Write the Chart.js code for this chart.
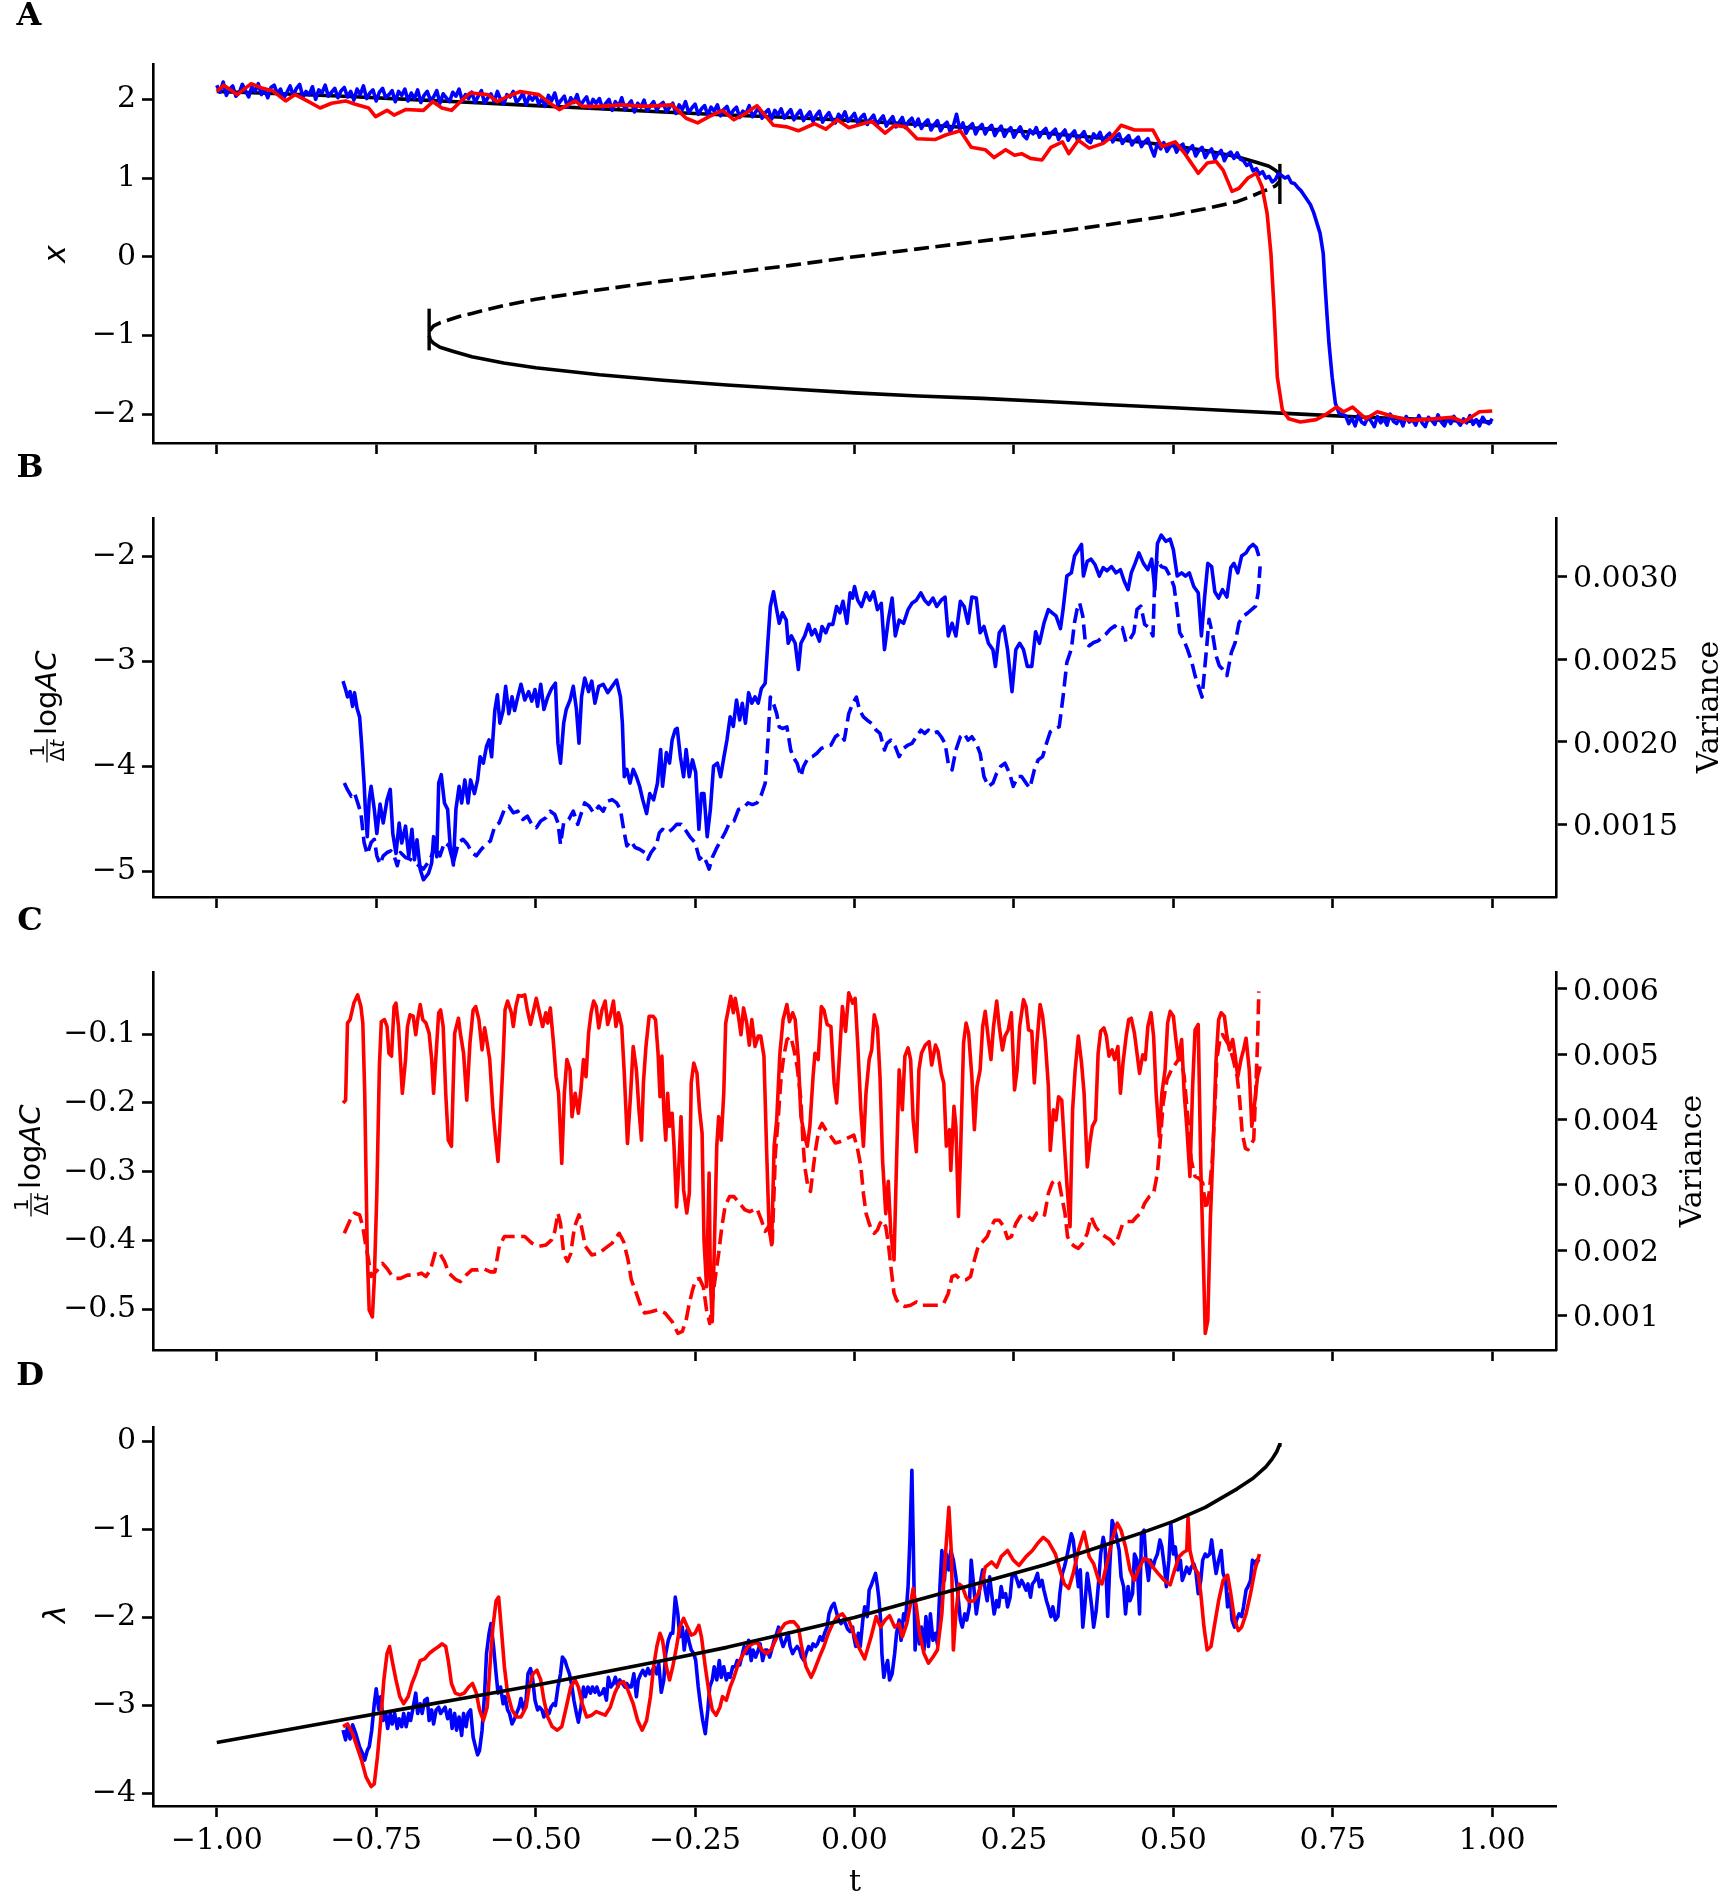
<!DOCTYPE html>
<html>
<head>
<meta charset="utf-8">
<script src="https://cdn.jsdelivr.net/npm/chart.js@4.4.1/dist/chart.umd.min.js"></script>
<style>
  html, body { margin: 0; padding: 0; background: #fff; }
  #page { position: relative; width: 1725px; height: 1895px; overflow: hidden; }
  canvas { position: absolute; left: 0; }
</style>
</head>
<body>
<div id="page">
  <canvas id="chartA" width="1725" height="470" style="top:0px"></canvas>
  <canvas id="chartB" width="1725" height="500" style="top:445px"></canvas>
  <canvas id="chartC" width="1725" height="500" style="top:900px"></canvas>
  <canvas id="chartD" width="1725" height="540" style="top:1355px"></canvas>
</div>
<script>
// ---- tick values ----
const tTicks = [-1, -0.75, -0.5, -0.25, 0, 0.25, 0.5, 0.75, 1];
const aYTicks = [-2, -1, 0, 1, 2];
const bYTicks = [-5, -4, -3, -2];
const bVarTicks = [0.0015, 0.0020, 0.0025, 0.0030];
const cYTicks = [-0.5, -0.4, -0.3, -0.2, -0.1];
const cVarTicks = [0.001, 0.002, 0.003, 0.004, 0.005, 0.006];
const dYTicks = [-4, -3, -2, -1, 0];

// ---- panel A: equilibrium branches [t, x] ----
const upperA = [[-1.0,2.10],[-0.9,2.07],[-0.8,2.04],[-0.7,2.00],[-0.6,1.96],[-0.5,1.92],[-0.4,1.88],[-0.3,1.84],[-0.2,1.80],[-0.1,1.77],[0.0,1.73],[0.1,1.68],[0.2,1.63],[0.3,1.57],[0.4,1.50],[0.5,1.41],[0.55,1.35],[0.6,1.27],[0.63,1.20],[0.65,1.15],[0.66,1.10],[0.665,1.06],[0.667,1.00]];
const lowerA = [[-0.667,-1.00],[-0.665,-1.06],[-0.66,-1.10],[-0.65,-1.15],[-0.63,-1.20],[-0.6,-1.27],[-0.55,-1.35],[-0.5,-1.41],[-0.4,-1.50],[-0.3,-1.57],[-0.2,-1.63],[-0.1,-1.68],[0.0,-1.73],[0.1,-1.77],[0.2,-1.80],[0.3,-1.84],[0.4,-1.88],[0.5,-1.92],[0.6,-1.96],[0.7,-2.00],[0.8,-2.04],[0.9,-2.07],[1.0,-2.10]];
const unstableA = [[-0.667,-0.95],[-0.66,-0.88],[-0.65,-0.84],[-0.62,-0.76],[-0.6,-0.72],[-0.55,-0.62],[-0.5,-0.54],[-0.4,-0.42],[-0.3,-0.31],[-0.2,-0.21],[-0.1,-0.11],[0.0,0.0],[0.1,0.10],[0.2,0.20],[0.3,0.30],[0.4,0.41],[0.5,0.53],[0.55,0.61],[0.6,0.70],[0.62,0.76],[0.64,0.83],[0.65,0.86],[0.66,0.90],[0.667,0.96]];
const foldT = [-0.667, 0.667];
const foldLow = [-1.19, 0.67];
const foldHigh = [-0.66, 1.18];

// ---- panel A: simulated trajectories ----
const blueAStart = -1.0, blueAStep = 0.005;
const blueAEarly = [
  2.18,2.09,2.22,2.05,2.13,2.17,2.04,2.08,2.19,2.11,2.03,2.16,2.10,2.20,2.06,2.12,2.02,2.15,2.18,2.07,
  2.13,2.01,2.09,2.17,2.05,2.14,2.19,2.03,2.10,2.06,2.16,2.00,2.12,2.08,2.18,2.04,2.09,2.14,2.02,2.11,
  2.15,2.03,2.10,1.99,2.13,2.06,2.17,2.01,2.08,2.12,1.98,2.09,2.14,2.02,2.06,2.11,1.97,2.10,2.05,2.13,
  1.98,2.08,2.01,2.12,1.96,2.05,2.10,1.99,2.03,2.11,1.95,2.07,2.02,1.97,2.09,2.04,2.13,1.98,2.06,2.01,
  2.09,1.96,2.04,2.11,1.95,2.02,2.07,1.97,2.10,2.00,1.94,2.06,2.03,2.10,1.96,2.01,2.08,1.93,2.04,1.99,
  2.06,1.94,2.01,1.91,2.05,1.98,2.08,1.93,1.99,2.04,1.90,2.02,1.96,2.06,1.92,1.98,2.03,1.89,2.00,1.95,
  2.01,1.88,1.95,2.00,1.86,1.97,1.91,2.02,1.87,1.93,1.98,1.84,1.95,1.90,1.99,1.85,1.92,1.97,1.86,1.93,
  1.96,1.84,1.90,1.95,1.82,1.93,1.87,1.97,1.83,1.89,1.94,1.81,1.88,1.92,1.80,1.90,1.85,1.93,1.79,1.87,
  1.91,1.79,1.86,1.90,1.77,1.85,1.82,1.92,1.78,1.84,1.89,1.76,1.83,1.87,1.75,1.86,1.80,1.88,1.76,1.82,
  1.87,1.74,1.81,1.86,1.73,1.79,1.84,1.72,1.80,1.85,1.71,1.78,1.83,1.74,1.70,1.81,1.76,1.84,1.72,1.77,
  1.82,1.70,1.77,1.81,1.68,1.75,1.80,1.67,1.74,1.79,1.66,1.73,1.78,1.65,1.71,1.77,1.64,1.72,1.76,1.66,
  1.75,1.63,1.70,1.74,1.61,1.68,1.73,1.60,1.67,1.71,1.59,1.66,1.81,1.62,1.70,1.57,1.65,1.69,1.56,1.64,
  1.68,1.56,1.63,1.67,1.54,1.61,1.66,1.53,1.60,1.64,1.52,1.59,1.65,1.54,1.50,1.61,1.56,1.64,1.52,1.59,
  1.63,1.51,1.58,1.62,1.49,1.56,1.61,1.48,1.55,1.60,1.47,1.54,1.59,1.48,1.45,1.56,1.51,1.58,1.46,1.53,
  1.57,1.46,1.53,1.56,1.44,1.50,1.54,1.42,1.48,1.52,1.40,1.46,1.50,1.38,1.28,1.44,1.37,1.45,1.34,1.40,
  1.44,1.33,1.40,1.43,1.30,1.37,1.41,1.28,1.35,1.39,1.26,1.33,1.37,1.24,1.31,1.35,1.22,1.30,1.33,1.25,
  1.32,1.24,1.22,1.16,1.19,1.09,1.12,1.05,1.08,1.00,1.02,0.95,0.98,1.06,1.03,1.00,1.02,0.94,0.93,0.88,
  0.84,0.78,0.72,0.66,0.56
];
const blueADrop = [[0.73,0.30],[0.735,0.04],[0.738,-0.38],[0.741,-0.75],[0.744,-1.10],[0.749,-1.53],[0.754,-1.86],[0.76,-1.99]];
const blueALateStart = 0.77;
const blueALate = [
  -2.02,-2.12,-2.05,-2.15,-2.01,-2.10,-2.13,-2.04,-2.09,-2.16,
  -2.03,-2.11,-2.06,-2.14,-2.00,-2.09,-2.12,-2.05,-2.15,-2.03,
  -2.10,-2.07,-2.14,-2.02,-2.11,-2.16,-2.04,-2.08,-2.13,-2.01,
  -2.10,-2.15,-2.05,-2.12,-2.03,-2.09,-2.14,-2.06,-2.11,-2.02,
  -2.13,-2.07,-2.15,-2.04,-2.10,-2.12,-2.06
];
const redA = [[-1.000,2.10],[-0.989,2.18],[-0.968,2.06],[-0.946,2.20],[-0.928,2.14],[-0.913,2.11],[-0.892,1.98],[-0.877,2.06],[-0.856,1.97],[-0.838,1.89],[-0.820,1.95],[-0.798,1.98],[-0.784,1.94],[-0.762,1.89],[-0.751,1.78],[-0.733,1.86],[-0.722,1.80],[-0.704,1.87],[-0.676,1.86],[-0.661,1.97],[-0.647,1.89],[-0.632,1.86],[-0.618,1.97],[-0.603,2.08],[-0.575,2.06],[-0.560,1.97],[-0.546,2.03],[-0.524,2.10],[-0.495,2.06],[-0.474,1.93],[-0.463,1.87],[-0.438,1.98],[-0.427,1.91],[-0.401,1.91],[-0.365,1.93],[-0.329,1.91],[-0.286,1.93],[-0.264,1.76],[-0.246,1.70],[-0.228,1.78],[-0.207,1.86],[-0.189,1.74],[-0.171,1.82],[-0.153,1.92],[-0.127,1.67],[-0.106,1.65],[-0.088,1.60],[-0.063,1.69],[-0.045,1.62],[-0.027,1.74],[-0.009,1.64],[0.013,1.69],[0.027,1.72],[0.048,1.57],[0.063,1.67],[0.080,1.65],[0.098,1.50],[0.127,1.49],[0.144,1.55],[0.166,1.60],[0.183,1.39],[0.205,1.36],[0.219,1.26],[0.237,1.36],[0.251,1.29],[0.262,1.31],[0.276,1.25],[0.294,1.23],[0.308,1.39],[0.326,1.46],[0.336,1.31],[0.351,1.48],[0.368,1.38],[0.390,1.44],[0.404,1.53],[0.418,1.67],[0.439,1.61],[0.454,1.61],[0.468,1.61],[0.482,1.40],[0.503,1.46],[0.518,1.31],[0.539,1.06],[0.553,1.19],[0.567,1.21],[0.578,1.10],[0.592,0.83],[0.603,0.87],[0.617,1.00],[0.630,1.06],[0.639,0.89],[0.647,0.55],[0.653,0.04],[0.658,-0.68],[0.663,-1.53],[0.671,-1.95],[0.681,-2.06],[0.699,-2.10],[0.724,-2.07],[0.738,-2.01],[0.756,-1.91],[0.767,-1.97],[0.781,-1.91],[0.802,-2.06],[0.820,-1.97],[0.845,-2.03],[0.873,-2.08],[0.909,-2.06],[0.937,-2.04],[0.955,-2.10],[0.980,-1.97],[1.000,-1.96]];

// ---- panel B: blue run, (1/dt) log AC and variance ----
const blueLogAC = [[-0.802,-3.19],[-0.798,-3.27],[-0.795,-3.34],[-0.791,-3.29],[-0.787,-3.43],[-0.784,-3.30],[-0.780,-3.45],[-0.776,-3.53],[-0.773,-3.78],[-0.769,-4.16],[-0.767,-4.41],[-0.764,-4.67],[-0.761,-4.32],[-0.758,-4.19],[-0.753,-4.41],[-0.749,-4.64],[-0.744,-4.36],[-0.739,-4.54],[-0.733,-4.32],[-0.728,-4.22],[-0.724,-4.64],[-0.719,-4.83],[-0.714,-4.54],[-0.710,-4.73],[-0.704,-4.57],[-0.699,-4.86],[-0.694,-4.60],[-0.690,-4.89],[-0.686,-4.70],[-0.681,-4.98],[-0.676,-5.08],[-0.668,-5.02],[-0.663,-4.92],[-0.660,-4.67],[-0.655,-4.86],[-0.652,-4.16],[-0.648,-4.08],[-0.643,-4.35],[-0.638,-4.41],[-0.634,-4.76],[-0.629,-4.94],[-0.625,-4.41],[-0.620,-4.19],[-0.616,-4.35],[-0.611,-4.13],[-0.606,-4.35],[-0.602,-4.13],[-0.596,-4.26],[-0.591,-4.13],[-0.587,-3.91],[-0.582,-3.97],[-0.577,-3.81],[-0.573,-3.75],[-0.569,-3.91],[-0.564,-3.47],[-0.560,-3.32],[-0.556,-3.59],[-0.551,-3.47],[-0.547,-3.24],[-0.542,-3.50],[-0.537,-3.34],[-0.533,-3.47],[-0.528,-3.34],[-0.523,-3.22],[-0.517,-3.37],[-0.511,-3.29],[-0.506,-3.38],[-0.501,-3.27],[-0.497,-3.43],[-0.492,-3.22],[-0.487,-3.46],[-0.481,-3.34],[-0.475,-3.26],[-0.469,-3.21],[-0.465,-3.78],[-0.461,-3.97],[-0.456,-3.59],[-0.452,-3.46],[-0.446,-3.37],[-0.441,-3.24],[-0.436,-3.46],[-0.432,-3.78],[-0.428,-3.34],[-0.423,-3.16],[-0.417,-3.29],[-0.412,-3.19],[-0.407,-3.40],[-0.401,-3.24],[-0.394,-3.22],[-0.387,-3.30],[-0.380,-3.24],[-0.373,-3.18],[-0.367,-3.34],[-0.364,-3.59],[-0.361,-4.10],[-0.357,-4.03],[-0.352,-4.16],[-0.347,-4.03],[-0.342,-4.10],[-0.337,-4.19],[-0.332,-4.32],[-0.326,-4.45],[-0.321,-4.26],[-0.315,-4.32],[-0.309,-4.16],[-0.304,-3.84],[-0.301,-4.19],[-0.295,-3.87],[-0.290,-3.97],[-0.286,-3.75],[-0.281,-3.65],[-0.278,-3.64],[-0.273,-3.91],[-0.268,-4.10],[-0.264,-3.84],[-0.259,-4.10],[-0.254,-3.94],[-0.249,-4.06],[-0.244,-4.60],[-0.240,-4.26],[-0.236,-4.26],[-0.231,-4.67],[-0.226,-4.41],[-0.221,-4.00],[-0.215,-3.97],[-0.210,-4.10],[-0.205,-3.92],[-0.200,-3.75],[-0.195,-3.53],[-0.190,-3.62],[-0.185,-3.37],[-0.180,-3.56],[-0.176,-3.40],[-0.171,-3.59],[-0.166,-3.30],[-0.161,-3.40],[-0.156,-3.34],[-0.151,-3.40],[-0.146,-3.26],[-0.140,-3.21],[-0.136,-2.83],[-0.132,-2.48],[-0.127,-2.34],[-0.123,-2.48],[-0.118,-2.64],[-0.113,-2.54],[-0.107,-2.61],[-0.104,-2.83],[-0.099,-2.76],[-0.093,-2.83],[-0.088,-3.08],[-0.084,-2.83],[-0.078,-2.76],[-0.072,-2.65],[-0.067,-2.75],[-0.062,-2.70],[-0.055,-2.81],[-0.051,-2.67],[-0.045,-2.73],[-0.040,-2.65],[-0.034,-2.65],[-0.028,-2.48],[-0.023,-2.54],[-0.018,-2.43],[-0.012,-2.64],[-0.007,-2.35],[-0.003,-2.40],[0.000,-2.29],[0.005,-2.42],[0.011,-2.48],[0.018,-2.35],[0.024,-2.42],[0.030,-2.34],[0.036,-2.51],[0.042,-2.45],[0.047,-2.89],[0.053,-2.61],[0.059,-2.40],[0.064,-2.76],[0.070,-2.61],[0.077,-2.64],[0.084,-2.51],[0.090,-2.45],[0.097,-2.42],[0.104,-2.35],[0.110,-2.42],[0.116,-2.46],[0.123,-2.40],[0.129,-2.48],[0.136,-2.42],[0.142,-2.39],[0.147,-2.76],[0.153,-2.64],[0.159,-2.76],[0.166,-2.43],[0.172,-2.48],[0.178,-2.64],[0.184,-2.39],[0.191,-2.40],[0.197,-2.73],[0.203,-2.67],[0.210,-2.83],[0.217,-2.89],[0.221,-3.05],[0.227,-2.73],[0.234,-2.67],[0.240,-2.89],[0.247,-3.29],[0.253,-2.89],[0.259,-2.83],[0.265,-2.89],[0.271,-3.05],[0.278,-3.05],[0.284,-2.72],[0.290,-2.83],[0.297,-2.64],[0.304,-2.51],[0.310,-2.54],[0.316,-2.57],[0.323,-2.69],[0.327,-2.51],[0.333,-2.19],[0.340,-2.16],[0.345,-2.00],[0.351,-1.94],[0.356,-1.89],[0.359,-2.19],[0.365,-2.05],[0.371,-2.03],[0.377,-2.08],[0.384,-2.19],[0.390,-2.11],[0.396,-2.14],[0.403,-2.10],[0.410,-2.16],[0.417,-2.13],[0.423,-2.24],[0.429,-2.32],[0.434,-2.16],[0.440,-2.07],[0.446,-1.97],[0.453,-2.07],[0.460,-2.13],[0.466,-2.03],[0.471,-2.32],[0.475,-1.88],[0.481,-1.80],[0.488,-1.86],[0.495,-1.84],[0.500,-1.94],[0.506,-2.19],[0.513,-2.16],[0.519,-2.19],[0.525,-2.16],[0.532,-2.29],[0.539,-2.35],[0.544,-2.76],[0.549,-2.39],[0.554,-2.07],[0.560,-2.10],[0.565,-2.34],[0.571,-2.40],[0.577,-2.32],[0.584,-2.39],[0.590,-2.11],[0.595,-2.07],[0.601,-2.16],[0.607,-2.00],[0.614,-1.97],[0.619,-1.92],[0.625,-1.89],[0.630,-1.92],[0.634,-2.00]];
const blueVar = [[-0.800,0.00175],[-0.795,0.00171],[-0.789,0.00167],[-0.784,0.00169],[-0.779,0.00163],[-0.774,0.00157],[-0.769,0.00139],[-0.764,0.00132],[-0.758,0.00139],[-0.753,0.00141],[-0.749,0.00131],[-0.744,0.00126],[-0.739,0.00131],[-0.733,0.00133],[-0.727,0.00134],[-0.722,0.00131],[-0.717,0.00125],[-0.712,0.00133],[-0.704,0.00130],[-0.697,0.00129],[-0.690,0.00127],[-0.683,0.00125],[-0.676,0.00123],[-0.665,0.00129],[-0.657,0.00138],[-0.650,0.00131],[-0.643,0.00139],[-0.636,0.00137],[-0.629,0.00127],[-0.621,0.00139],[-0.614,0.00141],[-0.607,0.00138],[-0.600,0.00133],[-0.593,0.00131],[-0.585,0.00135],[-0.578,0.00138],[-0.571,0.00140],[-0.564,0.00149],[-0.557,0.00151],[-0.549,0.00159],[-0.542,0.00161],[-0.535,0.00157],[-0.528,0.00158],[-0.520,0.00153],[-0.513,0.00155],[-0.506,0.00150],[-0.499,0.00148],[-0.492,0.00152],[-0.484,0.00154],[-0.477,0.00158],[-0.470,0.00156],[-0.465,0.00151],[-0.461,0.00138],[-0.456,0.00151],[-0.448,0.00153],[-0.441,0.00158],[-0.434,0.00150],[-0.429,0.00156],[-0.423,0.00163],[-0.416,0.00161],[-0.409,0.00157],[-0.401,0.00161],[-0.394,0.00158],[-0.387,0.00164],[-0.380,0.00165],[-0.373,0.00163],[-0.367,0.00159],[-0.362,0.00147],[-0.357,0.00137],[-0.351,0.00140],[-0.344,0.00136],[-0.337,0.00135],[-0.329,0.00133],[-0.324,0.00129],[-0.319,0.00133],[-0.311,0.00137],[-0.306,0.00145],[-0.301,0.00147],[-0.293,0.00145],[-0.286,0.00147],[-0.279,0.00150],[-0.272,0.00150],[-0.264,0.00146],[-0.257,0.00142],[-0.250,0.00139],[-0.243,0.00129],[-0.237,0.00131],[-0.232,0.00127],[-0.228,0.00123],[-0.223,0.00130],[-0.217,0.00135],[-0.210,0.00140],[-0.203,0.00145],[-0.196,0.00151],[-0.189,0.00152],[-0.182,0.00159],[-0.174,0.00160],[-0.167,0.00163],[-0.160,0.00162],[-0.153,0.00163],[-0.146,0.00168],[-0.140,0.00175],[-0.136,0.00199],[-0.132,0.00227],[-0.127,0.00223],[-0.122,0.00217],[-0.118,0.00209],[-0.113,0.00208],[-0.106,0.00209],[-0.100,0.00195],[-0.095,0.00190],[-0.090,0.00187],[-0.084,0.00179],[-0.080,0.00185],[-0.073,0.00190],[-0.066,0.00191],[-0.059,0.00193],[-0.052,0.00196],[-0.045,0.00197],[-0.037,0.00198],[-0.030,0.00203],[-0.023,0.00205],[-0.016,0.00201],[-0.009,0.00217],[-0.003,0.00223],[0.003,0.00227],[0.008,0.00219],[0.014,0.00215],[0.020,0.00213],[0.027,0.00211],[0.034,0.00207],[0.040,0.00205],[0.047,0.00195],[0.051,0.00199],[0.057,0.00201],[0.064,0.00197],[0.070,0.00191],[0.077,0.00196],[0.084,0.00198],[0.090,0.00199],[0.097,0.00203],[0.104,0.00207],[0.110,0.00205],[0.116,0.00207],[0.123,0.00205],[0.130,0.00206],[0.136,0.00203],[0.142,0.00199],[0.147,0.00187],[0.153,0.00183],[0.159,0.00195],[0.166,0.00203],[0.172,0.00205],[0.178,0.00201],[0.184,0.00203],[0.191,0.00199],[0.197,0.00193],[0.203,0.00179],[0.210,0.00173],[0.217,0.00175],[0.223,0.00181],[0.229,0.00185],[0.236,0.00187],[0.243,0.00181],[0.249,0.00173],[0.256,0.00179],[0.262,0.00179],[0.269,0.00175],[0.275,0.00172],[0.282,0.00183],[0.288,0.00189],[0.295,0.00191],[0.301,0.00199],[0.307,0.00206],[0.314,0.00208],[0.321,0.00209],[0.327,0.00227],[0.333,0.00248],[0.340,0.00256],[0.345,0.00272],[0.349,0.00280],[0.353,0.00284],[0.358,0.00276],[0.362,0.00260],[0.368,0.00258],[0.375,0.00260],[0.382,0.00261],[0.388,0.00263],[0.394,0.00265],[0.401,0.00268],[0.408,0.00270],[0.414,0.00268],[0.420,0.00269],[0.426,0.00260],[0.432,0.00262],[0.438,0.00266],[0.443,0.00280],[0.449,0.00282],[0.455,0.00271],[0.462,0.00269],[0.468,0.00264],[0.471,0.00300],[0.475,0.00310],[0.481,0.00306],[0.488,0.00305],[0.495,0.00300],[0.501,0.00294],[0.506,0.00280],[0.510,0.00266],[0.516,0.00262],[0.522,0.00256],[0.529,0.00248],[0.534,0.00240],[0.540,0.00233],[0.545,0.00227],[0.551,0.00252],[0.556,0.00274],[0.562,0.00264],[0.567,0.00252],[0.572,0.00246],[0.577,0.00244],[0.584,0.00240],[0.591,0.00254],[0.597,0.00260],[0.603,0.00272],[0.610,0.00276],[0.617,0.00278],[0.623,0.00280],[0.629,0.00282],[0.633,0.00290],[0.636,0.00306]];

// ---- panel C: red run, (1/dt) log AC and variance ----
const redLogAC = [[-0.802,-0.200],[-0.798,-0.196],[-0.795,-0.084],[-0.791,-0.079],[-0.785,-0.055],[-0.779,-0.043],[-0.774,-0.060],[-0.771,-0.084],[-0.768,-0.186],[-0.764,-0.419],[-0.761,-0.501],[-0.756,-0.511],[-0.753,-0.457],[-0.749,-0.331],[-0.745,-0.147],[-0.742,-0.082],[-0.737,-0.079],[-0.733,-0.089],[-0.730,-0.128],[-0.726,-0.132],[-0.722,-0.060],[-0.719,-0.055],[-0.715,-0.089],[-0.709,-0.186],[-0.704,-0.137],[-0.701,-0.089],[-0.697,-0.072],[-0.692,-0.074],[-0.688,-0.101],[-0.685,-0.079],[-0.681,-0.057],[-0.677,-0.079],[-0.672,-0.084],[-0.667,-0.099],[-0.663,-0.137],[-0.660,-0.186],[-0.655,-0.113],[-0.652,-0.069],[-0.649,-0.065],[-0.645,-0.089],[-0.641,-0.186],[-0.637,-0.254],[-0.632,-0.263],[-0.627,-0.099],[-0.621,-0.077],[-0.618,-0.099],[-0.613,-0.128],[-0.608,-0.196],[-0.603,-0.113],[-0.598,-0.065],[-0.594,-0.060],[-0.589,-0.079],[-0.584,-0.123],[-0.580,-0.091],[-0.576,-0.113],[-0.572,-0.137],[-0.567,-0.210],[-0.563,-0.249],[-0.559,-0.285],[-0.556,-0.234],[-0.551,-0.137],[-0.548,-0.065],[-0.544,-0.052],[-0.538,-0.069],[-0.535,-0.089],[-0.531,-0.060],[-0.527,-0.044],[-0.522,-0.045],[-0.517,-0.043],[-0.513,-0.065],[-0.508,-0.086],[-0.504,-0.069],[-0.499,-0.048],[-0.494,-0.069],[-0.489,-0.089],[-0.484,-0.069],[-0.481,-0.084],[-0.477,-0.062],[-0.472,-0.113],[-0.468,-0.162],[-0.464,-0.186],[-0.459,-0.288],[-0.455,-0.186],[-0.451,-0.137],[-0.446,-0.152],[-0.443,-0.220],[-0.438,-0.186],[-0.433,-0.215],[-0.429,-0.181],[-0.425,-0.137],[-0.421,-0.162],[-0.417,-0.099],[-0.413,-0.069],[-0.409,-0.052],[-0.405,-0.060],[-0.401,-0.091],[-0.396,-0.065],[-0.391,-0.052],[-0.387,-0.086],[-0.383,-0.074],[-0.378,-0.052],[-0.374,-0.089],[-0.370,-0.069],[-0.365,-0.089],[-0.361,-0.157],[-0.356,-0.259],[-0.351,-0.186],[-0.347,-0.118],[-0.342,-0.152],[-0.338,-0.210],[-0.334,-0.254],[-0.331,-0.171],[-0.327,-0.118],[-0.322,-0.074],[-0.316,-0.074],[-0.312,-0.079],[-0.308,-0.128],[-0.305,-0.191],[-0.302,-0.132],[-0.299,-0.210],[-0.296,-0.254],[-0.293,-0.186],[-0.290,-0.234],[-0.286,-0.215],[-0.283,-0.263],[-0.279,-0.351],[-0.275,-0.283],[-0.272,-0.220],[-0.268,-0.326],[-0.263,-0.360],[-0.259,-0.331],[-0.256,-0.171],[-0.252,-0.142],[-0.247,-0.157],[-0.243,-0.210],[-0.239,-0.244],[-0.236,-0.399],[-0.232,-0.467],[-0.228,-0.302],[-0.226,-0.457],[-0.223,-0.518],[-0.220,-0.419],[-0.216,-0.263],[-0.213,-0.220],[-0.209,-0.254],[-0.205,-0.186],[-0.202,-0.084],[-0.197,-0.060],[-0.194,-0.045],[-0.190,-0.069],[-0.187,-0.048],[-0.182,-0.074],[-0.178,-0.101],[-0.174,-0.062],[-0.169,-0.084],[-0.165,-0.116],[-0.161,-0.079],[-0.156,-0.118],[-0.151,-0.103],[-0.147,-0.103],[-0.142,-0.132],[-0.138,-0.263],[-0.134,-0.380],[-0.130,-0.406],[-0.126,-0.263],[-0.122,-0.225],[-0.117,-0.128],[-0.112,-0.079],[-0.106,-0.057],[-0.102,-0.082],[-0.097,-0.069],[-0.093,-0.079],[-0.088,-0.137],[-0.084,-0.220],[-0.078,-0.249],[-0.074,-0.263],[-0.070,-0.234],[-0.065,-0.162],[-0.062,-0.128],[-0.057,-0.137],[-0.052,-0.060],[-0.048,-0.065],[-0.043,-0.086],[-0.037,-0.089],[-0.032,-0.171],[-0.028,-0.200],[-0.023,-0.123],[-0.019,-0.060],[-0.014,-0.096],[-0.009,-0.040],[-0.003,-0.055],[0.001,-0.048],[0.005,-0.113],[0.010,-0.210],[0.014,-0.263],[0.018,-0.186],[0.023,-0.137],[0.027,-0.123],[0.031,-0.072],[0.036,-0.091],[0.040,-0.162],[0.044,-0.283],[0.049,-0.361],[0.053,-0.314],[0.057,-0.390],[0.062,-0.428],[0.066,-0.283],[0.070,-0.152],[0.075,-0.210],[0.079,-0.132],[0.084,-0.120],[0.088,-0.137],[0.092,-0.225],[0.097,-0.271],[0.101,-0.152],[0.105,-0.128],[0.111,-0.116],[0.117,-0.111],[0.121,-0.145],[0.127,-0.116],[0.131,-0.125],[0.136,-0.157],[0.140,-0.171],[0.144,-0.263],[0.149,-0.239],[0.151,-0.298],[0.156,-0.205],[0.159,-0.234],[0.163,-0.365],[0.166,-0.283],[0.171,-0.113],[0.175,-0.084],[0.179,-0.099],[0.184,-0.162],[0.188,-0.239],[0.192,-0.176],[0.197,-0.152],[0.201,-0.089],[0.205,-0.067],[0.210,-0.108],[0.214,-0.137],[0.218,-0.089],[0.223,-0.052],[0.227,-0.089],[0.232,-0.123],[0.236,-0.103],[0.241,-0.094],[0.246,-0.069],[0.251,-0.181],[0.255,-0.152],[0.259,-0.089],[0.265,-0.050],[0.269,-0.060],[0.273,-0.094],[0.278,-0.096],[0.282,-0.171],[0.286,-0.113],[0.291,-0.057],[0.295,-0.074],[0.299,-0.108],[0.304,-0.176],[0.307,-0.269],[0.312,-0.210],[0.316,-0.225],[0.320,-0.191],[0.325,-0.196],[0.329,-0.259],[0.333,-0.317],[0.338,-0.380],[0.342,-0.210],[0.346,-0.152],[0.351,-0.103],[0.356,-0.142],[0.360,-0.186],[0.365,-0.293],[0.369,-0.259],[0.373,-0.234],[0.378,-0.225],[0.382,-0.128],[0.386,-0.096],[0.391,-0.091],[0.395,-0.103],[0.399,-0.132],[0.404,-0.123],[0.408,-0.137],[0.413,-0.118],[0.417,-0.186],[0.421,-0.142],[0.426,-0.103],[0.430,-0.079],[0.434,-0.077],[0.439,-0.099],[0.443,-0.128],[0.447,-0.157],[0.452,-0.130],[0.456,-0.137],[0.460,-0.089],[0.465,-0.069],[0.469,-0.103],[0.473,-0.186],[0.478,-0.249],[0.482,-0.186],[0.487,-0.152],[0.491,-0.084],[0.495,-0.067],[0.500,-0.074],[0.504,-0.108],[0.508,-0.137],[0.513,-0.108],[0.517,-0.186],[0.521,-0.234],[0.526,-0.307],[0.530,-0.181],[0.534,-0.094],[0.539,-0.086],[0.543,-0.293],[0.547,-0.428],[0.550,-0.535],[0.554,-0.516],[0.558,-0.370],[0.562,-0.273],[0.567,-0.137],[0.571,-0.079],[0.575,-0.069],[0.580,-0.074],[0.584,-0.103],[0.588,-0.123],[0.593,-0.108],[0.597,-0.132],[0.601,-0.162],[0.606,-0.137],[0.610,-0.123],[0.614,-0.106],[0.619,-0.152],[0.623,-0.234],[0.628,-0.196],[0.632,-0.162],[0.636,-0.147]];
const redVar = [[-0.800,0.00226],[-0.791,0.00246],[-0.784,0.00257],[-0.776,0.00254],[-0.771,0.00236],[-0.767,0.00211],[-0.762,0.00185],[-0.758,0.00160],[-0.753,0.00165],[-0.748,0.00170],[-0.740,0.00180],[-0.733,0.00172],[-0.726,0.00162],[-0.719,0.00157],[-0.712,0.00157],[-0.701,0.00162],[-0.690,0.00162],[-0.679,0.00165],[-0.672,0.00160],[-0.665,0.00170],[-0.657,0.00198],[-0.650,0.00195],[-0.643,0.00183],[-0.636,0.00165],[-0.625,0.00155],[-0.618,0.00152],[-0.609,0.00162],[-0.600,0.00170],[-0.590,0.00170],[-0.582,0.00172],[-0.571,0.00167],[-0.564,0.00167],[-0.557,0.00206],[-0.549,0.00221],[-0.538,0.00221],[-0.528,0.00221],[-0.517,0.00221],[-0.506,0.00211],[-0.495,0.00206],[-0.484,0.00208],[-0.475,0.00216],[-0.470,0.00229],[-0.465,0.00257],[-0.461,0.00241],[-0.456,0.00195],[-0.450,0.00183],[-0.445,0.00195],[-0.439,0.00236],[-0.432,0.00254],[-0.427,0.00231],[-0.422,0.00206],[-0.412,0.00193],[-0.401,0.00195],[-0.391,0.00203],[-0.380,0.00211],[-0.369,0.00226],[-0.362,0.00213],[-0.355,0.00185],[-0.350,0.00155],[-0.342,0.00134],[-0.335,0.00114],[-0.329,0.00104],[-0.319,0.00106],[-0.308,0.00109],[-0.297,0.00104],[-0.286,0.00091],[-0.277,0.00073],[-0.270,0.00076],[-0.264,0.00093],[-0.259,0.00119],[-0.254,0.00139],[-0.249,0.00155],[-0.243,0.00157],[-0.237,0.00144],[-0.232,0.00109],[-0.227,0.00088],[-0.221,0.00139],[-0.216,0.00175],[-0.213,0.00195],[-0.208,0.00236],[-0.203,0.00267],[-0.196,0.00282],[-0.189,0.00282],[-0.182,0.00274],[-0.172,0.00262],[-0.164,0.00259],[-0.153,0.00264],[-0.146,0.00246],[-0.140,0.00229],[-0.135,0.00236],[-0.129,0.00211],[-0.124,0.00348],[-0.119,0.00410],[-0.115,0.00466],[-0.111,0.00496],[-0.106,0.00522],[-0.100,0.00527],[-0.095,0.00507],[-0.090,0.00481],[-0.084,0.00430],[-0.081,0.00369],[-0.078,0.00328],[-0.073,0.00297],[-0.069,0.00290],[-0.065,0.00323],[-0.061,0.00354],[-0.056,0.00384],[-0.051,0.00394],[-0.045,0.00384],[-0.037,0.00374],[-0.030,0.00364],[-0.023,0.00366],[-0.012,0.00371],[-0.001,0.00376],[0.005,0.00354],[0.010,0.00328],[0.014,0.00287],[0.018,0.00257],[0.023,0.00241],[0.027,0.00231],[0.031,0.00226],[0.036,0.00231],[0.040,0.00241],[0.044,0.00246],[0.049,0.00236],[0.053,0.00211],[0.057,0.00175],[0.062,0.00134],[0.066,0.00124],[0.070,0.00119],[0.079,0.00114],[0.088,0.00116],[0.097,0.00121],[0.105,0.00116],[0.118,0.00116],[0.131,0.00116],[0.140,0.00119],[0.147,0.00134],[0.153,0.00160],[0.159,0.00162],[0.166,0.00155],[0.175,0.00155],[0.182,0.00160],[0.188,0.00185],[0.194,0.00206],[0.201,0.00213],[0.208,0.00221],[0.214,0.00236],[0.220,0.00246],[0.227,0.00246],[0.234,0.00236],[0.240,0.00218],[0.246,0.00221],[0.253,0.00241],[0.260,0.00252],[0.266,0.00254],[0.272,0.00252],[0.279,0.00246],[0.286,0.00257],[0.292,0.00259],[0.298,0.00254],[0.304,0.00287],[0.310,0.00303],[0.316,0.00308],[0.321,0.00303],[0.326,0.00277],[0.330,0.00257],[0.334,0.00221],[0.339,0.00211],[0.345,0.00206],[0.351,0.00203],[0.358,0.00211],[0.365,0.00226],[0.371,0.00251],[0.378,0.00236],[0.386,0.00226],[0.393,0.00221],[0.401,0.00216],[0.408,0.00208],[0.414,0.00221],[0.420,0.00239],[0.427,0.00244],[0.436,0.00244],[0.443,0.00252],[0.449,0.00257],[0.455,0.00272],[0.462,0.00282],[0.469,0.00287],[0.475,0.00318],[0.480,0.00374],[0.484,0.00425],[0.490,0.00461],[0.497,0.00476],[0.504,0.00486],[0.511,0.00496],[0.517,0.00466],[0.523,0.00399],[0.528,0.00338],[0.534,0.00313],[0.540,0.00310],[0.546,0.00303],[0.551,0.00262],[0.556,0.00287],[0.561,0.00338],[0.565,0.00415],[0.568,0.00491],[0.573,0.00522],[0.577,0.00530],[0.582,0.00522],[0.588,0.00512],[0.594,0.00491],[0.600,0.00466],[0.604,0.00430],[0.608,0.00379],[0.613,0.00356],[0.617,0.00354],[0.621,0.00361],[0.626,0.00369],[0.629,0.00440],[0.632,0.00517],[0.634,0.00596]];

// ---- panel D: decay rate lambda ----
const lambdaTheory = [[-1.00,-3.42],[-0.90,-3.29],[-0.80,-3.16],[-0.70,-3.03],[-0.60,-2.90],[-0.50,-2.77],[-0.40,-2.63],[-0.30,-2.49],[-0.20,-2.34],[-0.10,-2.17],[0.00,-2.00],[0.10,-1.80],[0.20,-1.60],[0.30,-1.40],[0.40,-1.16],[0.45,-1.04],[0.50,-0.91],[0.55,-0.75],[0.60,-0.54],[0.625,-0.42],[0.645,-0.29],[0.655,-0.20],[0.662,-0.12],[0.666,-0.05],[0.667,-0.02]];
const blueLambda = [[-0.802,-3.28],[-0.798,-3.39],[-0.795,-3.24],[-0.791,-3.38],[-0.787,-3.22],[-0.782,-3.32],[-0.776,-3.47],[-0.771,-3.55],[-0.768,-3.62],[-0.764,-3.51],[-0.761,-3.47],[-0.757,-3.28],[-0.753,-2.98],[-0.750,-2.81],[-0.746,-3.05],[-0.743,-2.90],[-0.739,-3.17],[-0.735,-3.09],[-0.732,-3.26],[-0.728,-3.09],[-0.725,-3.21],[-0.721,-3.09],[-0.717,-3.26],[-0.714,-3.15],[-0.710,-3.24],[-0.707,-3.09],[-0.703,-3.24],[-0.699,-3.09],[-0.696,-3.17],[-0.692,-3.02],[-0.688,-2.86],[-0.685,-3.09],[-0.681,-2.98],[-0.678,-3.09],[-0.674,-2.94],[-0.670,-2.92],[-0.667,-3.17],[-0.663,-3.05],[-0.660,-3.21],[-0.656,-3.05],[-0.652,-3.02],[-0.649,-3.09],[-0.645,-3.05],[-0.642,-3.02],[-0.638,-3.15],[-0.634,-3.05],[-0.631,-3.26],[-0.627,-3.09],[-0.624,-3.28],[-0.620,-3.13],[-0.616,-3.34],[-0.613,-3.09],[-0.609,-3.24],[-0.606,-3.09],[-0.602,-3.05],[-0.598,-3.36],[-0.595,-3.45],[-0.591,-3.56],[-0.588,-3.51],[-0.584,-3.28],[-0.580,-2.86],[-0.577,-2.41],[-0.573,-2.18],[-0.570,-2.07],[-0.566,-2.33],[-0.562,-2.64],[-0.559,-2.86],[-0.555,-2.79],[-0.551,-2.98],[-0.548,-2.90],[-0.544,-3.05],[-0.541,-3.09],[-0.537,-3.21],[-0.533,-3.15],[-0.530,-3.09],[-0.526,-3.02],[-0.523,-2.92],[-0.519,-3.05],[-0.515,-2.94],[-0.512,-2.64],[-0.508,-2.58],[-0.505,-2.68],[-0.501,-2.94],[-0.497,-3.05],[-0.494,-3.02],[-0.490,-3.05],[-0.487,-3.13],[-0.483,-3.05],[-0.479,-3.09],[-0.476,-3.02],[-0.472,-2.98],[-0.469,-3.00],[-0.465,-2.79],[-0.461,-2.64],[-0.458,-2.45],[-0.454,-2.49],[-0.451,-2.56],[-0.447,-2.64],[-0.443,-2.79],[-0.440,-2.94],[-0.436,-3.09],[-0.433,-3.19],[-0.429,-3.02],[-0.425,-2.79],[-0.422,-2.90],[-0.418,-2.79],[-0.414,-2.86],[-0.411,-2.79],[-0.407,-2.85],[-0.404,-2.79],[-0.400,-2.88],[-0.396,-2.86],[-0.393,-2.81],[-0.389,-2.94],[-0.386,-2.68],[-0.382,-2.79],[-0.378,-2.75],[-0.375,-2.68],[-0.371,-2.79],[-0.368,-2.71],[-0.364,-2.75],[-0.360,-2.79],[-0.357,-2.75],[-0.353,-2.79],[-0.350,-2.79],[-0.346,-2.64],[-0.342,-2.90],[-0.339,-2.71],[-0.335,-2.64],[-0.332,-2.60],[-0.328,-2.66],[-0.324,-2.58],[-0.321,-2.64],[-0.317,-2.60],[-0.314,-2.56],[-0.310,-2.64],[-0.307,-2.52],[-0.303,-2.85],[-0.299,-2.71],[-0.296,-2.41],[-0.292,-2.26],[-0.288,-2.18],[-0.285,-2.18],[-0.281,-1.77],[-0.277,-1.96],[-0.274,-2.22],[-0.270,-2.11],[-0.267,-2.37],[-0.263,-2.15],[-0.260,-2.26],[-0.256,-2.37],[-0.252,-2.41],[-0.249,-2.49],[-0.245,-2.79],[-0.241,-3.02],[-0.238,-3.17],[-0.234,-3.32],[-0.230,-3.05],[-0.227,-2.79],[-0.223,-2.71],[-0.220,-2.56],[-0.216,-2.71],[-0.212,-2.49],[-0.209,-2.68],[-0.205,-2.56],[-0.201,-2.71],[-0.198,-2.64],[-0.195,-2.68],[-0.191,-2.56],[-0.187,-2.56],[-0.184,-2.49],[-0.180,-2.54],[-0.177,-2.45],[-0.173,-2.33],[-0.169,-2.41],[-0.166,-2.26],[-0.162,-2.49],[-0.159,-2.37],[-0.155,-2.45],[-0.151,-2.37],[-0.148,-2.30],[-0.144,-2.49],[-0.140,-2.37],[-0.137,-2.37],[-0.133,-2.45],[-0.130,-2.37],[-0.126,-2.26],[-0.122,-2.18],[-0.119,-2.11],[-0.115,-2.26],[-0.112,-2.33],[-0.108,-2.26],[-0.104,-2.18],[-0.101,-2.33],[-0.097,-2.41],[-0.094,-2.37],[-0.090,-2.33],[-0.086,-2.37],[-0.083,-2.45],[-0.079,-2.49],[-0.076,-2.41],[-0.072,-2.33],[-0.068,-2.37],[-0.065,-2.30],[-0.061,-2.33],[-0.058,-2.30],[-0.054,-2.22],[-0.050,-2.26],[-0.047,-2.18],[-0.043,-2.11],[-0.040,-1.96],[-0.036,-1.88],[-0.032,-1.84],[-0.029,-1.92],[-0.025,-2.03],[-0.021,-2.07],[-0.018,-2.03],[-0.014,-2.07],[-0.011,-2.13],[-0.007,-2.16],[-0.003,-2.11],[-0.001,-2.22],[0.002,-2.33],[0.006,-2.18],[0.009,-2.33],[0.013,-2.03],[0.016,-1.88],[0.020,-1.99],[0.023,-1.69],[0.027,-1.62],[0.031,-1.54],[0.033,-1.50],[0.036,-1.65],[0.038,-1.77],[0.041,-2.03],[0.043,-2.41],[0.046,-2.68],[0.048,-2.60],[0.052,-2.49],[0.055,-2.71],[0.059,-2.64],[0.063,-2.41],[0.066,-2.18],[0.070,-2.03],[0.073,-2.26],[0.077,-1.96],[0.080,-2.03],[0.084,-1.65],[0.087,-1.09],[0.090,-0.33],[0.092,-1.09],[0.095,-2.37],[0.098,-2.03],[0.102,-2.30],[0.105,-2.11],[0.109,-2.37],[0.112,-1.99],[0.116,-2.33],[0.119,-1.96],[0.123,-2.26],[0.127,-2.18],[0.130,-2.30],[0.134,-1.65],[0.137,-1.24],[0.141,-1.58],[0.144,-1.28],[0.148,-1.46],[0.151,-1.24],[0.155,-1.35],[0.159,-1.54],[0.162,-1.73],[0.166,-2.03],[0.169,-2.11],[0.173,-1.96],[0.176,-2.03],[0.180,-1.88],[0.183,-1.35],[0.187,-1.65],[0.191,-1.96],[0.194,-1.81],[0.198,-1.58],[0.201,-1.46],[0.205,-1.69],[0.208,-1.81],[0.212,-1.54],[0.215,-1.73],[0.219,-1.96],[0.223,-1.81],[0.226,-1.88],[0.230,-1.65],[0.233,-1.77],[0.237,-1.73],[0.240,-1.88],[0.244,-1.77],[0.247,-1.54],[0.251,-1.50],[0.255,-1.58],[0.258,-1.65],[0.262,-1.58],[0.265,-1.62],[0.269,-1.69],[0.272,-1.62],[0.276,-1.77],[0.279,-1.62],[0.283,-1.58],[0.287,-1.50],[0.290,-1.65],[0.294,-1.58],[0.297,-1.69],[0.301,-1.81],[0.304,-1.88],[0.308,-1.99],[0.311,-1.88],[0.315,-2.03],[0.319,-1.99],[0.322,-1.73],[0.326,-1.50],[0.329,-1.43],[0.333,-1.31],[0.336,-1.20],[0.340,-1.05],[0.343,-1.12],[0.347,-1.39],[0.351,-1.65],[0.354,-1.46],[0.358,-2.11],[0.361,-1.88],[0.365,-1.50],[0.368,-1.65],[0.372,-1.88],[0.375,-2.11],[0.379,-1.92],[0.383,-1.58],[0.386,-1.28],[0.390,-1.09],[0.393,-1.20],[0.397,-1.99],[0.400,-1.46],[0.404,-0.90],[0.407,-0.97],[0.411,-1.09],[0.415,-1.24],[0.418,-1.54],[0.422,-1.65],[0.425,-1.96],[0.429,-1.65],[0.432,-1.81],[0.436,-1.73],[0.439,-1.28],[0.443,-1.35],[0.447,-1.96],[0.450,-1.05],[0.454,-1.01],[0.457,-1.35],[0.461,-1.58],[0.464,-1.35],[0.468,-1.43],[0.471,-1.35],[0.475,-1.28],[0.479,-1.12],[0.482,-1.20],[0.486,-1.43],[0.489,-1.65],[0.493,-1.35],[0.496,-0.93],[0.500,-1.28],[0.503,-1.20],[0.507,-1.46],[0.511,-1.35],[0.514,-1.58],[0.518,-1.50],[0.521,-1.43],[0.525,-1.50],[0.528,-1.43],[0.532,-1.39],[0.535,-1.46],[0.539,-1.73],[0.543,-1.58],[0.546,-1.35],[0.550,-1.28],[0.553,-1.31],[0.557,-1.28],[0.560,-1.12],[0.564,-1.35],[0.567,-1.50],[0.571,-1.35],[0.575,-1.24],[0.578,-1.50],[0.582,-1.58],[0.585,-1.88],[0.589,-1.73],[0.592,-2.03],[0.596,-2.11],[0.599,-2.03],[0.603,-1.96],[0.607,-1.99],[0.610,-1.88],[0.614,-1.69],[0.617,-1.65],[0.621,-1.58],[0.624,-1.35],[0.628,-1.39],[0.631,-1.35],[0.635,-1.37]];
const redLambda = [[-0.802,-3.24],[-0.795,-3.21],[-0.787,-3.32],[-0.780,-3.47],[-0.773,-3.62],[-0.766,-3.81],[-0.758,-3.92],[-0.753,-3.89],[-0.748,-3.58],[-0.743,-3.17],[-0.738,-2.71],[-0.733,-2.41],[-0.729,-2.33],[-0.725,-2.49],[-0.719,-2.71],[-0.713,-2.90],[-0.707,-2.98],[-0.700,-2.90],[-0.694,-2.75],[-0.688,-2.64],[-0.681,-2.49],[-0.674,-2.47],[-0.667,-2.41],[-0.660,-2.37],[-0.652,-2.33],[-0.647,-2.30],[-0.641,-2.33],[-0.637,-2.49],[-0.632,-2.75],[-0.626,-2.86],[-0.619,-2.88],[-0.612,-2.86],[-0.605,-2.79],[-0.599,-2.75],[-0.593,-2.86],[-0.588,-3.05],[-0.582,-3.17],[-0.576,-3.02],[-0.571,-2.49],[-0.567,-2.11],[-0.562,-1.81],[-0.558,-1.77],[-0.554,-2.11],[-0.549,-2.56],[-0.544,-2.86],[-0.537,-3.05],[-0.530,-3.13],[-0.523,-3.13],[-0.515,-3.02],[-0.510,-2.79],[-0.504,-2.64],[-0.498,-2.60],[-0.492,-2.71],[-0.487,-2.94],[-0.481,-3.13],[-0.474,-3.24],[-0.466,-3.28],[-0.459,-3.24],[-0.452,-3.02],[-0.445,-2.79],[-0.438,-2.71],[-0.433,-2.79],[-0.427,-2.98],[-0.420,-3.13],[-0.412,-3.11],[-0.405,-3.07],[-0.398,-3.09],[-0.391,-3.11],[-0.383,-3.02],[-0.376,-2.86],[-0.369,-2.75],[-0.362,-2.73],[-0.355,-2.83],[-0.347,-2.98],[-0.340,-3.17],[-0.333,-3.28],[-0.326,-3.17],[-0.320,-2.90],[-0.315,-2.56],[-0.310,-2.33],[-0.305,-2.18],[-0.301,-2.26],[-0.295,-2.56],[-0.290,-2.71],[-0.285,-2.56],[-0.279,-2.33],[-0.274,-2.11],[-0.268,-2.01],[-0.262,-2.11],[-0.256,-2.20],[-0.250,-2.18],[-0.244,-2.09],[-0.240,-2.22],[-0.234,-2.56],[-0.228,-2.86],[-0.223,-3.05],[-0.217,-3.11],[-0.211,-3.02],[-0.207,-2.90],[-0.201,-2.94],[-0.195,-2.79],[-0.189,-2.68],[-0.182,-2.52],[-0.174,-2.41],[-0.167,-2.33],[-0.160,-2.30],[-0.153,-2.28],[-0.145,-2.37],[-0.138,-2.41],[-0.131,-2.37],[-0.124,-2.26],[-0.117,-2.15],[-0.109,-2.07],[-0.102,-2.05],[-0.095,-2.05],[-0.088,-2.11],[-0.083,-2.33],[-0.076,-2.56],[-0.068,-2.68],[-0.063,-2.60],[-0.055,-2.45],[-0.048,-2.33],[-0.041,-2.18],[-0.034,-2.07],[-0.027,-1.99],[-0.019,-1.96],[-0.012,-2.03],[-0.009,-2.03],[0.006,-2.33],[0.016,-2.47],[0.026,-2.22],[0.034,-1.99],[0.041,-2.11],[0.048,-2.03],[0.055,-1.98],[0.063,-2.11],[0.070,-2.07],[0.075,-2.22],[0.082,-2.07],[0.087,-1.88],[0.092,-1.67],[0.097,-1.88],[0.102,-2.18],[0.109,-2.41],[0.116,-2.52],[0.123,-2.45],[0.130,-2.37],[0.137,-1.96],[0.142,-1.35],[0.148,-0.75],[0.152,-1.28],[0.155,-2.37],[0.159,-1.96],[0.164,-1.62],[0.169,-1.65],[0.175,-1.77],[0.180,-1.82],[0.187,-1.81],[0.194,-1.73],[0.201,-1.58],[0.205,-1.43],[0.215,-1.37],[0.223,-1.43],[0.230,-1.31],[0.240,-1.24],[0.249,-1.35],[0.258,-1.41],[0.269,-1.31],[0.279,-1.24],[0.287,-1.16],[0.296,-1.09],[0.304,-1.14],[0.315,-1.28],[0.322,-1.46],[0.329,-1.62],[0.336,-1.67],[0.343,-1.50],[0.351,-1.24],[0.360,-1.03],[0.368,-1.31],[0.375,-1.39],[0.383,-1.58],[0.388,-1.62],[0.397,-1.35],[0.404,-1.12],[0.412,-0.93],[0.418,-1.01],[0.425,-1.20],[0.432,-1.46],[0.439,-1.58],[0.447,-1.43],[0.454,-1.33],[0.461,-1.35],[0.468,-1.43],[0.476,-1.50],[0.486,-1.58],[0.495,-1.63],[0.502,-1.46],[0.509,-1.31],[0.516,-1.26],[0.521,-1.24],[0.523,-0.86],[0.526,-1.24],[0.532,-1.43],[0.539,-1.50],[0.543,-1.73],[0.548,-2.11],[0.553,-2.37],[0.559,-2.33],[0.564,-2.11],[0.571,-1.81],[0.578,-1.58],[0.585,-1.52],[0.590,-1.73],[0.596,-2.03],[0.602,-2.15],[0.607,-2.11],[0.614,-1.96],[0.621,-1.73],[0.628,-1.46],[0.635,-1.28]];

// ---- helpers ----
const SERIF = '"DejaVu Serif"';
const SANS = '"DejaVu Sans"';
const BLUE = '#0000ff', RED = '#ff0000', BLACK = '#000000';
const LW = 3.6;
const DASH = [15, 6.5];
const MINUS = '\u2212';

const fmtSigned = digits => v => (v < 0 ? MINUS : '') + Math.abs(v).toFixed(digits);
const toXY = pairs => pairs.map(([x, y]) => ({ x, y }));

const blueA = [
  ...blueAEarly.map((v, i) => [blueAStart + i * blueAStep, v]),
  ...blueADrop,
  ...blueALate.map((v, i) => [blueALateStart + i * blueAStep, v]),
];

function line(pairs, color, order, dash, axis) {
  return {
    data: toXY(pairs),
    borderColor: color,
    borderWidth: LW,
    borderDash: dash || [],
    pointRadius: 0,
    fill: false,
    tension: 0,
    order,
    yAxisID: axis || 'y',
  };
}

function foldMarker(i) {
  return {
    data: [{ x: foldT[i], y: foldLow[i] }, { x: foldT[i], y: foldHigh[i] }],
    borderColor: BLACK, borderWidth: 3.4, pointRadius: 0, order: 2, yAxisID: 'y',
    borderCapStyle: 'butt',
  };
}

const tickFont = { family: SERIF, size: 30 };
const gridTicks = { display: true, drawOnChartArea: false, drawTicks: true, tickLength: 11, tickWidth: 2.6, tickColor: BLACK };
const spine = { display: true, color: BLACK, width: 2.6 };

function xScale(height, showLabels) {
  return {
    type: 'linear', position: 'bottom', min: -1.1, max: 1.1,
    afterBuildTicks: s => { s.ticks = tTicks.map(v => ({ value: v })); },
    afterFit: s => { s.height = height; },
    grid: gridTicks, border: spine,
    ticks: { display: showLabels, color: BLACK, font: tickFont, padding: 6, maxRotation: 0, autoSkip: false, callback: fmtSigned(2) },
  };
}

function yScale(position, min, max, ticks, fmt, width, labelOffset) {
  return {
    type: 'linear', position, min, max,
    afterBuildTicks: s => { s.ticks = ticks.map(v => ({ value: v })); },
    afterFit: s => { s.width = width; },
    grid: gridTicks, border: spine,
    ticks: { color: BLACK, font: tickFont, padding: 6, autoSkip: false, callback: fmt, labelOffset: labelOffset || 0 },
  };
}

// ---- text drawing (axis labels, panel letters) ----
function panelLetter(ctx, text, x, y) {
  ctx.save();
  ctx.font = 'bold 32px ' + SERIF;
  ctx.fillStyle = BLACK; ctx.textAlign = 'center'; ctx.textBaseline = 'middle';
  ctx.fillText(text, x, y);
  ctx.restore();
}

function rotatedText(ctx, text, x, y, font) {
  ctx.save();
  ctx.translate(x, y); ctx.rotate(-Math.PI / 2);
  ctx.font = font; ctx.fillStyle = BLACK; ctx.textAlign = 'center'; ctx.textBaseline = 'middle';
  ctx.fillText(text, 0, 0);
  ctx.restore();
}

// (1/Δt) log AC, rotated like a matplotlib ylabel
function acLabel(ctx, cx, cy) {
  const big = '29px ' + SANS, bigIt = 'italic 29px ' + SANS;
  const small = '20px ' + SANS, smallIt = 'italic 20px ' + SANS;
  ctx.save();
  ctx.translate(cx, cy); ctx.rotate(-Math.PI / 2);
  ctx.fillStyle = BLACK; ctx.strokeStyle = BLACK; ctx.textBaseline = 'alphabetic'; ctx.textAlign = 'left';
  ctx.font = small; const wNum = ctx.measureText('1').width; const wDelta = ctx.measureText('\u0394').width;
  ctx.font = smallIt; const wT = ctx.measureText('t').width;
  const wDen = wDelta + wT;
  const wFrac = Math.max(wNum, wDen) + 4;
  ctx.font = big; const wLog = ctx.measureText('log').width;
  ctx.font = bigIt; const wAC = ctx.measureText('AC').width;
  let x0 = -(wFrac + 3 + wLog + wAC) / 2;
  const base = 10, bar = base - 9;
  ctx.lineWidth = 1.3;
  ctx.beginPath(); ctx.moveTo(x0 + 1, bar); ctx.lineTo(x0 + wFrac - 1, bar); ctx.stroke();
  ctx.font = small; ctx.fillText('1', x0 + (wFrac - wNum) / 2, bar - 3);
  const dx = x0 + (wFrac - wDen) / 2;
  ctx.fillText('\u0394', dx, bar + 17);
  ctx.font = smallIt; ctx.fillText('t', dx + wDelta, bar + 17);
  x0 += wFrac + 3;
  ctx.font = big; ctx.fillText('log', x0, base); x0 += wLog;
  ctx.font = bigIt; ctx.fillText('AC', x0, base);
  ctx.restore();
}

function makePanel(id, top, datasets, scales, rightPad, draw) {
  return new Chart(document.getElementById(id), {
    type: 'line',
    data: { datasets },
    options: {
      responsive: false,
      animation: false,
      events: [],
      layout: { padding: { top, right: rightPad, left: 0, bottom: 0 } },
      plugins: { legend: { display: false }, tooltip: { enabled: false } },
      elements: { line: { borderJoinStyle: 'round' } },
      scales,
    },
    plugins: [{ id: 'labels_' + id, afterDraw: chart => draw(chart.ctx) }],
  });
}

// Panel A
makePanel('chartA', 64, [
  line(redA, RED, 0),
  line(blueA, BLUE, 1),
  line(upperA, BLACK, 2),
  line(lowerA, BLACK, 2),
  line(unstableA, BLACK, 2, DASH),
  foldMarker(0), foldMarker(1),
], {
  x: xScale(27, false),
  y: yScale('left', -2.367, 2.449, aYTicks, fmtSigned(0), 153),
}, 169, ctx => {
  panelLetter(ctx, 'A', 29, 17);
  rotatedText(ctx, 'x', 57, 254, 'italic 30px ' + SANS);
});

// Panel B (canvas top 445)
makePanel('chartB', 73, [
  line(blueLogAC, BLUE, 0),
  line(blueVar, BLUE, 1, DASH, 'y2'),
], {
  x: xScale(48, false),
  y: yScale('left', -5.244, -1.638, bYTicks, fmtSigned(0), 153),
  y2: yScale('right', 0.001061, 0.003353, bVarTicks, v => v.toFixed(4), 169, 3),
}, 0, ctx => {
  panelLetter(ctx, 'B', 30, 24);
  acLabel(ctx, 46, 262);
  rotatedText(ctx, 'Variance', 1710, 262, '30px ' + SERIF);
});

// Panel C (canvas top 900)
makePanel('chartC', 72, [
  line(redLogAC, RED, 0),
  line(redVar, RED, 1, DASH, 'y2'),
], {
  x: xScale(50, false),
  y: yScale('left', -0.559, -0.0098, cYTicks, fmtSigned(1), 153),
  y2: yScale('right', 0.000475, 0.006256, cVarTicks, v => v.toFixed(3), 169, 3),
}, 0, ctx => {
  panelLetter(ctx, 'C', 30, 22);
  acLabel(ctx, 30, 261);
  rotatedText(ctx, 'Variance', 1693, 261, '30px ' + SERIF);
});

// Panel D (canvas top 1355)
makePanel('chartD', 72, [
  line(lambdaTheory, BLACK, 0),
  line(redLambda, RED, 1),
  line(blueLambda, BLUE, 2),
], {
  x: xScale(89, true),
  y: yScale('left', -4.141, 0.162, dYTicks, fmtSigned(0), 153),
}, 169, ctx => {
  panelLetter(ctx, 'D', 30, 22);
  rotatedText(ctx, '\u03bb', 57, 259, 'italic 30px ' + SANS);
  ctx.save();
  ctx.font = '30px ' + SERIF; ctx.fillStyle = BLACK; ctx.textAlign = 'center'; ctx.textBaseline = 'middle';
  ctx.fillText('t', 855, 528);
  ctx.restore();
});
</script>
</body>
</html>
